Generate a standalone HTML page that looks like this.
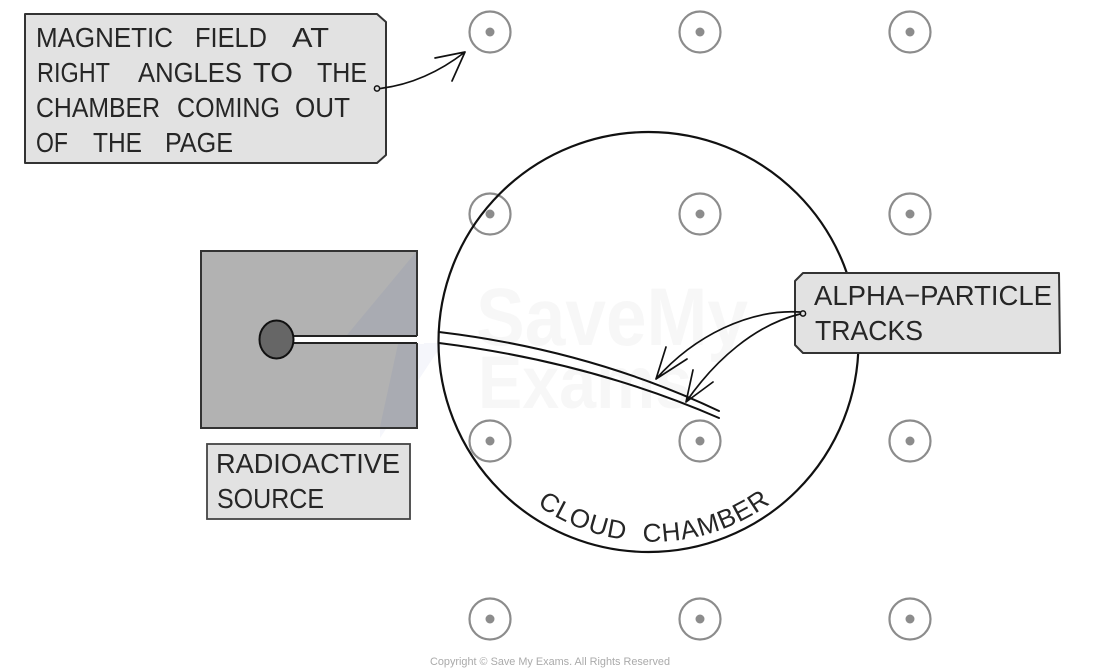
<!DOCTYPE html>
<html>
<head>
<meta charset="utf-8">
<style>
html,body{margin:0;padding:0;background:#fff;width:1100px;height:671px;overflow:hidden}
svg{display:block}
text{font-family:"Liberation Sans",sans-serif;fill:#262626}
.l{font-size:28px}
.w{font-family:"Liberation Sans",sans-serif;font-weight:bold;fill:#f7f7f7}
.line{fill:none;stroke:#111;stroke-width:2;stroke-linecap:round;stroke-linejoin:round}
.thin{fill:none;stroke:#111;stroke-width:1.700;stroke-linecap:round;stroke-linejoin:round}
.r{fill:none;stroke:#8c8c8c;stroke-width:2.200}
.d{fill:#8c8c8c}
</style>
</head>
<body>
<svg width="1100" height="671" viewBox="0 0 1100 671" xmlns="http://www.w3.org/2000/svg">
<rect width="1100" height="671" fill="#fff"/>

<!-- watermark -->
<text class="w" font-size="82" x="476" y="345" textLength="272" lengthAdjust="spacingAndGlyphs">SaveMy</text>
<text class="w" font-size="74" x="478" y="408" textLength="214" lengthAdjust="spacingAndGlyphs">Exams</text>
<polygon points="417,343 443,343 380,438 380,428 417,428" fill="#f5f6fb"/>

<!-- source -->
<rect x="201" y="251" width="216" height="177" fill="#b2b2b2" stroke="#333" stroke-width="2"/>
<polygon points="416,252 347,335 416,335" fill="#a9abb2"/>
<polygon points="398,344 380,427 416,427 416,344" fill="#a9abb2"/>
<rect x="285" y="336" width="134" height="7" fill="#fff"/>
<path d="M290,336 H417 M290,343 H417" stroke="#222" stroke-width="2" fill="none"/>
<path d="M417,251 V336 M417,343 V428" stroke="#333" stroke-width="2" fill="none"/>
<rect x="418" y="335" width="6" height="9" fill="#fff"/>
<ellipse cx="276.500" cy="339.500" rx="17" ry="19" fill="#666" stroke="#111" stroke-width="2"/>

<!-- source label -->
<rect x="207" y="444" width="203" height="75" fill="#e2e2e2" stroke="#444" stroke-width="1.800"/>
<text class="l" x="216" y="473" textLength="184" lengthAdjust="spacingAndGlyphs">RADIOACTIVE</text>
<text class="l" x="217" y="508" textLength="107" lengthAdjust="spacingAndGlyphs">SOURCE</text>

<!-- field symbols -->
<g>
<circle class="r" cx="490" cy="32" r="20.500"/><circle class="d" cx="490" cy="32" r="4.500"/>
<circle class="r" cx="700" cy="32" r="20.500"/><circle class="d" cx="700" cy="32" r="4.500"/>
<circle class="r" cx="910" cy="32" r="20.500"/><circle class="d" cx="910" cy="32" r="4.500"/>
<circle class="r" cx="490" cy="214" r="20.500"/><circle class="d" cx="490" cy="214" r="4.500"/>
<circle class="r" cx="700" cy="214" r="20.500"/><circle class="d" cx="700" cy="214" r="4.500"/>
<circle class="r" cx="910" cy="214" r="20.500"/><circle class="d" cx="910" cy="214" r="4.500"/>
<circle class="r" cx="490" cy="441" r="20.500"/><circle class="d" cx="490" cy="441" r="4.500"/>
<circle class="r" cx="700" cy="441" r="20.500"/><circle class="d" cx="700" cy="441" r="4.500"/>
<circle class="r" cx="910" cy="441" r="20.500"/><circle class="d" cx="910" cy="441" r="4.500"/>
<circle class="r" cx="490" cy="619" r="20.500"/><circle class="d" cx="490" cy="619" r="4.500"/>
<circle class="r" cx="700" cy="619" r="20.500"/><circle class="d" cx="700" cy="619" r="4.500"/>
<circle class="r" cx="910" cy="619" r="20.500"/><circle class="d" cx="910" cy="619" r="4.500"/>
</g>

<!-- chamber -->
<circle cx="648.500" cy="342" r="210" fill="none" stroke="#111" stroke-width="2.200"/>

<!-- tracks -->
<path class="line" d="M439,332 Q590,350 719,411"/>
<path class="line" d="M439,343 Q590,362 719,418"/>

<!-- chamber label -->
<defs><path id="arc" d="M537,505 A200,200 0 0 0 788,489"/></defs>
<text font-size="26" letter-spacing="1" word-spacing="9"><textPath href="#arc">CLOUD CHAMBER</textPath></text>

<!-- top-left label -->
<polygon points="25,14 377,14 386,22 386,155 377,163 25,163" fill="#e2e2e2" stroke="#333" stroke-width="2" stroke-linejoin="round"/>
<text class="l" x="36" y="47" textLength="137" lengthAdjust="spacingAndGlyphs">MAGNETIC</text>
<text class="l" x="195" y="47" textLength="72" lengthAdjust="spacingAndGlyphs">FIELD</text>
<text class="l" x="292" y="47" textLength="37" lengthAdjust="spacingAndGlyphs">AT</text>
<text class="l" x="37" y="82" textLength="73" lengthAdjust="spacingAndGlyphs">RIGHT</text>
<text class="l" x="138" y="82" textLength="104" lengthAdjust="spacingAndGlyphs">ANGLES</text>
<text class="l" x="253" y="82" textLength="40" lengthAdjust="spacingAndGlyphs">TO</text>
<text class="l" x="317" y="82" textLength="50" lengthAdjust="spacingAndGlyphs">THE</text>
<text class="l" x="36" y="117" textLength="124" lengthAdjust="spacingAndGlyphs">CHAMBER</text>
<text class="l" x="177" y="117" textLength="103" lengthAdjust="spacingAndGlyphs">COMING</text>
<text class="l" x="295" y="117" textLength="55" lengthAdjust="spacingAndGlyphs">OUT</text>
<text class="l" x="36" y="152" textLength="32" lengthAdjust="spacingAndGlyphs">OF</text>
<text class="l" x="93" y="152" textLength="49" lengthAdjust="spacingAndGlyphs">THE</text>
<text class="l" x="165" y="152" textLength="68" lengthAdjust="spacingAndGlyphs">PAGE</text>

<!-- right label -->
<polygon points="795,281 803,273 1059,273 1060,353 803,353 795,345" fill="#e2e2e2" stroke="#333" stroke-width="2" stroke-linejoin="round"/>
<text class="l" x="814" y="305" textLength="238" lengthAdjust="spacingAndGlyphs">ALPHA−PARTICLE</text>
<text class="l" x="815" y="340" textLength="108" lengthAdjust="spacingAndGlyphs">TRACKS</text>

<!-- arrows -->
<circle cx="377" cy="88.500" r="2.600" fill="none" stroke="#111" stroke-width="1.500"/>
<path class="thin" d="M380,88.500 Q425,83 465,52 M435,58 L465,52 L452,81"/>
<circle cx="803" cy="313.500" r="2.600" fill="none" stroke="#111" stroke-width="1.500"/>
<path class="thin" d="M800,312 C750,309 695,335 656,379 M666,347 L656,379 L687,359"/>
<path class="thin" d="M800,314 C755,325 715,360 686,402 M693,370 L686,402 L713,382"/>

<!-- copyright -->
<text x="430" y="665" font-size="11" textLength="240" lengthAdjust="spacingAndGlyphs" style="fill:#aaa">Copyright © Save My Exams. All Rights Reserved</text>
</svg>
</body>
</html>
